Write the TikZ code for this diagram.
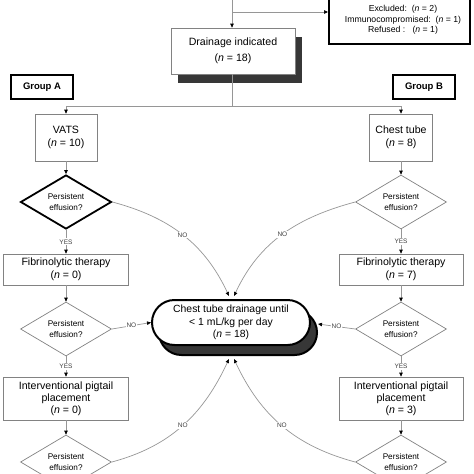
\documentclass[tikz,border=0pt]{standalone}
\usepackage{fontspec}
\setmainfont{Liberation Sans}
\usepackage{tikz}
\usetikzlibrary{
    positioning,
    arrows.meta,
    calc,
    shadows,
    shapes.geometric,
    shapes.misc
}
\definecolor{lineGray}{RGB}{150, 150, 150}
\definecolor{boxGray}{RGB}{130, 130, 130}
\definecolor{shadeDark}{RGB}{55, 55, 55}

\begin{document}
\begin{tikzpicture}[x=1pt, y=1pt,
    tip/.style={-{Triangle[length=4pt, width=3.5pt, color=black]}},
    conn/.style={lineGray, line width=0.7pt},
    stepbox/.style={draw=boxGray, line width=0.7pt, fill=white, align=center,
        inner sep=0pt, font=\fontsize{10.6}{13.5}\selectfont},
    groupbox/.style={draw=black, line width=2pt, inner sep=0pt,
        minimum width=62pt, minimum height=24pt,
        font=\bfseries\fontsize{9.5}{11}\selectfont},
    ask/.style={diamond, draw=boxGray, line width=0.7pt, fill=white, aspect=1.7,
        inner sep=0pt, minimum width=91pt, minimum height=54pt, align=center,
        font=\fontsize{8.2}{11}\selectfont},
    answer/.style={fill=white, inner sep=1pt, text=black!75,
        font=\fontsize{6.5}{7}\selectfont}
]
    \clip (0,0) rectangle (474,-474);

    \coordinate (top) at (232,0);
    \coordinate (split) at (232,-106);

    % header
    \node[draw=black, line width=2pt, minimum width=141pt, minimum height=64pt] (excl) at (399.5,-12) {};
    \node[align=center, font=\fontsize{8.7}{10.5}\selectfont] (exclNote) at (403,-20)
        {Excluded:~~(\textit{n} = 2)\\Immunocompromised:~~(\textit{n} = 1)\\Refused :~~~(\textit{n} = 1)};
    \node[stepbox, minimum width=124pt, minimum height=46pt, font=\fontsize{10.6}{15.5}\selectfont,
        drop shadow={shadow xshift=7pt, shadow yshift=-9pt, fill=shadeDark, opacity=1}]
        (drain) at (233,-51) {Drainage indicated\\(\textit{n} = 18)};
    \node[groupbox] (grpA) at (42,-87) {Group A};
    \node[groupbox] (grpB) at (424,-87) {Group B};

    % group A
    \node[stepbox, minimum width=62pt, minimum height=47pt] (vats) at (66,-137.5) {VATS\\(\textit{n} = 10)};
    \node[ask, draw=black, line width=1.8pt] (askA1) at (66,-202) {Persistent\\effusion?};
    \node[stepbox, minimum width=125pt, minimum height=31pt] (fibA) at (66,-269.5) {Fibrinolytic therapy\\(\textit{n} = 0)};
    \node[ask] (askA2) at (66,-329) {Persistent\\effusion?};
    \node[stepbox, minimum width=125pt, minimum height=43pt, font=\fontsize{10.6}{12}\selectfont]
        (pigA) at (66,-398.5) {Interventional pigtail\\placement\\(\textit{n} = 0)};
    \node[ask] (askA3) at (66,-462) {Persistent\\effusion?};

    % group B
    \node[stepbox, minimum width=63pt, minimum height=47pt] (chest) at (401,-137.5) {Chest tube\\(\textit{n} = 8)};
    \node[ask] (askB1) at (401,-202) {Persistent\\effusion?};
    \node[stepbox, minimum width=124pt, minimum height=31pt] (fibB) at (401,-269.5) {Fibrinolytic therapy\\(\textit{n} = 7)};
    \node[ask] (askB2) at (401,-329) {Persistent\\effusion?};
    \node[stepbox, minimum width=124pt, minimum height=43pt, font=\fontsize{10.6}{12}\selectfont]
        (pigB) at (401,-398.5) {Interventional pigtail\\placement\\(\textit{n} = 3)};
    \node[ask] (askB3) at (401,-462) {Persistent\\effusion?};

    % common end
    \node[rounded rectangle, draw=black, line width=2pt, fill=white, align=center,
        minimum width=158pt, minimum height=45pt, inner sep=0pt, font=\fontsize{10.4}{12.5}\selectfont,
        drop shadow={shadow xshift=7pt, shadow yshift=-10pt, fill=shadeDark, draw=black, opacity=1}]
        (tubeEnd) at (231,-322.5) {Chest tube drainage until\\< 1 mL/kg per day\\(\textit{n} = 18)};
    \coordinate (inTL) at ($(tubeEnd.north)+(-2,3)$);
    \coordinate (inTR) at ($(tubeEnd.north)+(3,3)$);
    \coordinate (inBL) at ($(tubeEnd.south)+(-2,-13)$);
    \coordinate (inBR) at ($(tubeEnd.south)+(3,-13)$);
    \coordinate (inR) at ($(tubeEnd.east)+(7,-1.5)$);

    % connectors
    \draw[conn, tip] (top) -- (top |- drain.north);
    \draw[conn, tip] (top |- excl.west) -- (excl.west);
    \draw[conn] (split |- drain.south) -- (split);
    \draw[conn, tip] (split) -| (vats.north);
    \draw[conn, tip] (split) -| (chest.north);

    \draw[conn, tip] (vats) -- (askA1);
    \draw[conn, tip] (askA1) -- node[answer] {YES} (fibA);
    \draw[conn, tip] (fibA) -- (askA2);
    \draw[conn, tip] (askA2) -- node[answer] {YES} (pigA);
    \draw[conn, tip] (pigA) -- (askA3);

    \draw[conn, tip] (chest) -- (askB1);
    \draw[conn, tip] (askB1) -- node[answer] {YES} (fibB);
    \draw[conn, tip] (fibB) -- (askB2);
    \draw[conn, tip] (askB2) -- node[answer] {YES} (pigB);
    \draw[conn, tip] (pigB) -- (askB3);

    \draw[conn, tip] (askA1.east) to[out=-15, in=115] node[answer] {NO} (inTL);
    \draw[conn, tip] (askB1.west) to[out=195, in=65] node[answer] {NO} (inTR);
    \draw[conn, tip] (askA2.east) -- node[answer] {NO} (tubeEnd.west);
    \draw[conn, tip] (askB2.west) -- node[answer] {NO} (inR);
    \draw[conn, tip] (askA3.east) to[out=15, in=-115] node[answer] {NO} (inBL);
    \draw[conn, tip] (askB3.west) to[out=165, in=-65] node[answer] {NO} (inBR);
\end{tikzpicture}
\end{document}
